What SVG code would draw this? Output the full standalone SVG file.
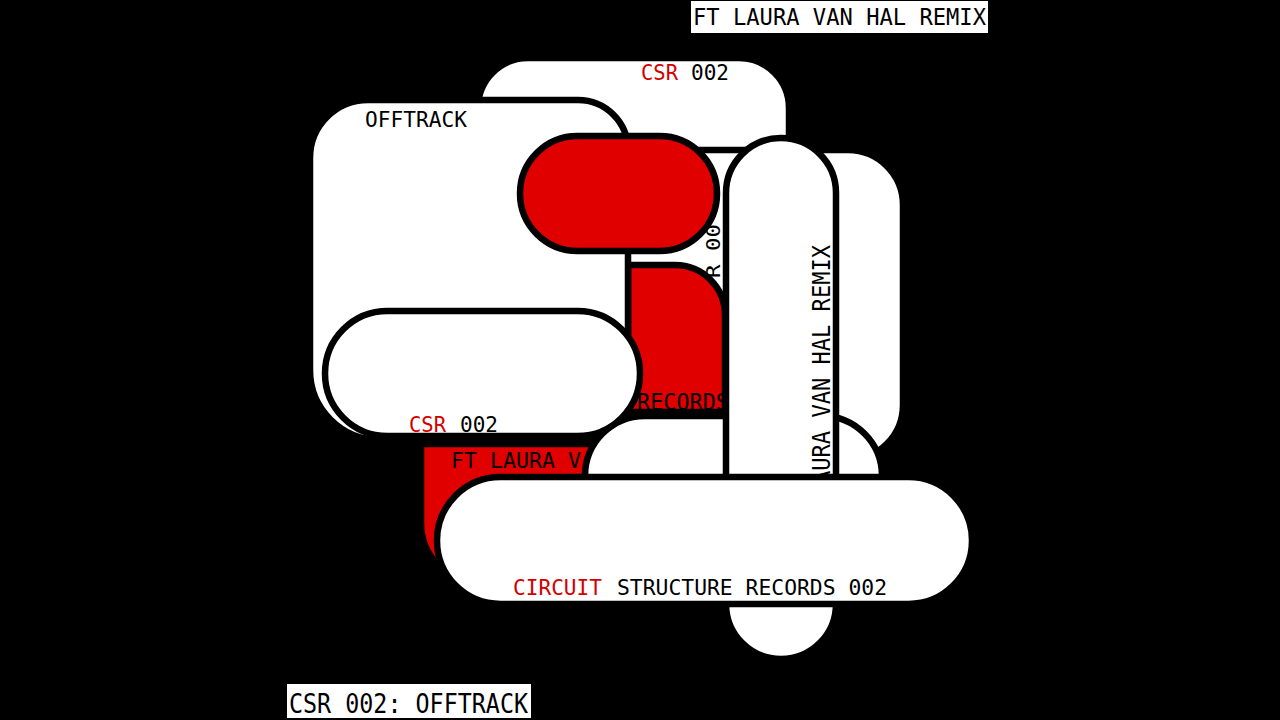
<svg xmlns="http://www.w3.org/2000/svg" width="1280" height="720" viewBox="0 0 1280 720">
<style>
.w{fill:#ffffff;stroke:#000000;stroke-width:6.5}
.r{fill:#e10000;stroke:#000000;stroke-width:6.5}
.t{font-family:"DejaVu Sans Mono","Liberation Mono",monospace;fill:#000000}
.rt{font-family:"DejaVu Sans Mono","Liberation Mono",monospace;fill:#d40000}
</style>
<rect x="0" y="0" width="1280" height="720" fill="#000000"/>
<g id="shape-top">
<rect class="w" x="478" y="58" width="311" height="150" rx="50"/>
<text class="rt" x="641" y="80" font-size="21" textLength="37" lengthAdjust="spacingAndGlyphs">CSR</text>
<text class="t" x="691" y="80" font-size="21" textLength="38" lengthAdjust="spacingAndGlyphs">002</text>
</g>
<g id="shape-back-right">
<rect class="w" x="560" y="150" width="343" height="310" rx="55"/>
<text class="t" transform="translate(720,278) rotate(-90)" font-size="20" textLength="54" lengthAdjust="spacingAndGlyphs">R 00</text>
</g>
<g id="shape-red-records">
<path class="r" d="M628 265 H675 A50 50 0 0 1 725 315 V412 H628 Z"/>
<text class="t" x="637" y="410" font-size="23" textLength="92" lengthAdjust="spacingAndGlyphs">RECORDS</text>
</g>
<g id="shape-offtrack">
<path class="w" d="M368 100 H578 A50 50 0 0 1 628 150 V440 H380 A70 70 0 0 1 310 370 V158 A58 58 0 0 1 368 100 Z"/>
<text class="t" x="365" y="127" font-size="21" textLength="102" lengthAdjust="spacingAndGlyphs">OFFTRACK</text>
</g>
<g id="pill-red-top">
<rect class="r" x="520" y="136" width="197" height="115" rx="57.5"/>
</g>
<g id="shape-red-laura">
<path class="r" d="M421 444 H700 V583 H481 A60 60 0 0 1 421 523 Z"/>
<text class="t" x="451" y="468" font-size="21" textLength="130" lengthAdjust="spacingAndGlyphs">FT LAURA V</text>
</g>
<g id="shape-mid">
<rect class="w" x="585" y="416" width="297" height="150" rx="60"/>
</g>
<g id="pill-csr">
<rect class="w" x="325" y="311" width="315" height="125" rx="62.5"/>
<text class="rt" x="409" y="432" font-size="21" textLength="37" lengthAdjust="spacingAndGlyphs">CSR</text>
<text class="t" x="460" y="432" font-size="21" textLength="38" lengthAdjust="spacingAndGlyphs">002</text>
</g>
<g id="pill-vertical">
<rect class="w" x="726" y="138" width="110" height="521" rx="55"/>
<text class="t" transform="translate(830,484) rotate(-90)" font-size="24" textLength="239" lengthAdjust="spacingAndGlyphs">AURA VAN HAL REMIX</text>
</g>
<g id="pill-bottom">
<rect class="w" x="437" y="477" width="535" height="127" rx="63.5"/>
<text class="rt" x="513" y="595" font-size="22" textLength="89" lengthAdjust="spacingAndGlyphs">CIRCUIT</text>
<text class="t" x="617" y="595" font-size="22" textLength="270" lengthAdjust="spacingAndGlyphs">STRUCTURE RECORDS 002</text>
</g>
<g id="label-top">
<rect x="691" y="1" width="297" height="32" fill="#ffffff"/>
<text class="t" x="693" y="25" font-size="23" textLength="293" lengthAdjust="spacingAndGlyphs">FT LAURA VAN HAL REMIX</text>
</g>
<g id="label-bottom">
<rect x="287" y="684" width="244" height="34" fill="#ffffff"/>
<text class="t" x="289" y="713" font-size="27" textLength="239" lengthAdjust="spacingAndGlyphs">CSR 002: OFFTRACK</text>
</g>
</svg>
